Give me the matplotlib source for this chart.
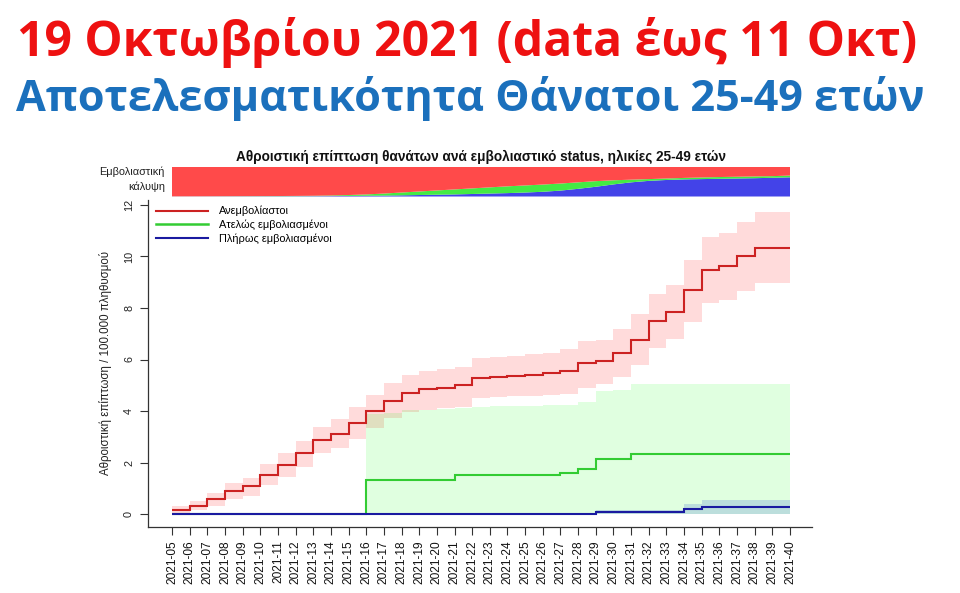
import matplotlib
matplotlib.use("Agg")
import matplotlib.pyplot as plt
from matplotlib.lines import Line2D
import numpy as np

# ---------------- data ----------------
week_labels = ["2021-05", "2021-06", "2021-07", "2021-08", "2021-09", "2021-10",
               "2021-11", "2021-12", "2021-13", "2021-14", "2021-15", "2021-16",
               "2021-17", "2021-18", "2021-19", "2021-20", "2021-21", "2021-22",
               "2021-23", "2021-24", "2021-25", "2021-26", "2021-27", "2021-28",
               "2021-29", "2021-30", "2021-31", "2021-32", "2021-33", "2021-34",
               "2021-35", "2021-36", "2021-37", "2021-38", "2021-39", "2021-40"]
weeks = list(range(5, 41))  # tick positions (week numbers)

# cumulative incidence per interval (week i -> i+1), weeks 05..39
unvacc = [0.15, 0.32, 0.57, 0.90, 1.09, 1.52, 1.89, 2.35, 2.86, 3.12, 3.55,
          4.00, 4.40, 4.70, 4.84, 4.91, 5.00, 5.27, 5.33, 5.37, 5.40, 5.48,
          5.56, 5.86, 5.93, 6.24, 6.77, 7.51, 7.83, 8.70, 9.48, 9.63, 10.02,
          10.33, 10.33]
unvacc_hi = [0.30, 0.52, 0.83, 1.22, 1.41, 1.94, 2.36, 2.85, 3.39, 3.68, 4.17,
             4.64, 5.07, 5.40, 5.57, 5.63, 5.72, 6.05, 6.09, 6.14, 6.20, 6.24,
             6.40, 6.72, 6.77, 7.17, 7.75, 8.55, 8.90, 9.86, 10.74, 10.93, 11.35,
             11.72, 11.72]
unvacc_lo = [0.04, 0.14, 0.31, 0.57, 0.70, 1.13, 1.45, 1.84, 2.36, 2.55, 2.92,
             3.35, 3.72, 3.97, 4.04, 4.10, 4.17, 4.49, 4.54, 4.58, 4.60, 4.62,
             4.66, 4.90, 5.05, 5.33, 5.79, 6.43, 6.80, 7.47, 8.18, 8.31, 8.67,
             8.97, 8.97]

partial = [0, 0, 0, 0, 0, 0, 0, 0, 0, 0, 0,
           1.32, 1.32, 1.32, 1.32, 1.32, 1.51, 1.51, 1.51, 1.51, 1.51, 1.51,
           1.58, 1.73, 2.12, 2.12, 2.33, 2.33, 2.33, 2.33, 2.33, 2.33, 2.33,
           2.33, 2.33]
partial_hi = [0, 0, 0, 0, 0, 0, 0, 0, 0, 0, 0,
              3.90, 3.92, 4.02, 4.04, 4.06, 4.12, 4.16, 4.18, 4.20, 4.20, 4.22,
              4.25, 4.35, 4.78, 4.80, 5.05, 5.05, 5.05, 5.05, 5.05, 5.05, 5.05,
              5.05, 5.05]
partial_lo = [0] * 35

full = [0, 0, 0, 0, 0, 0, 0, 0, 0, 0, 0,
        0, 0, 0, 0, 0, 0, 0, 0, 0, 0, 0,
        0, 0, 0.08, 0.08, 0.08, 0.08, 0.08, 0.18, 0.29, 0.29, 0.29,
        0.29, 0.29]
full_hi = [0, 0, 0, 0, 0, 0, 0, 0, 0, 0, 0,
           0, 0, 0, 0, 0, 0, 0, 0, 0, 0, 0,
           0, 0, 0.14, 0.14, 0.14, 0.14, 0.14, 0.38, 0.53, 0.53, 0.53,
           0.53, 0.53]
full_lo = [0] * 35

# vaccination coverage (fraction of population), weeks 05..40
cov_any = [0.005, 0.006, 0.008, 0.010, 0.012, 0.014, 0.016, 0.020, 0.025, 0.035,
           0.050, 0.070, 0.100, 0.135, 0.170, 0.205, 0.240, 0.275, 0.310, 0.345,
           0.375, 0.405, 0.440, 0.480, 0.520, 0.550, 0.570, 0.590, 0.610, 0.630,
           0.645, 0.660, 0.670, 0.680, 0.690, 0.710]
cov_full = [0.003, 0.004, 0.005, 0.006, 0.007, 0.008, 0.009, 0.010, 0.012, 0.015,
            0.020, 0.025, 0.030, 0.040, 0.050, 0.060, 0.070, 0.085, 0.100, 0.115,
            0.135, 0.160, 0.200, 0.260, 0.330, 0.410, 0.480, 0.530, 0.560, 0.580,
            0.590, 0.600, 0.610, 0.620, 0.635, 0.650]

series_names = ["Ανεμβολίαστοι", "Ατελώς εμβολιασμένοι", "Πλήρως εμβολιασμένοι"]

# ---------------- styling ----------------
W, H = 960, 593
DPI = 100
fig = plt.figure(figsize=(W / DPI, H / DPI), dpi=DPI)
fig.patch.set_facecolor("white")
plt.rcParams["font.family"] = ["Liberation Sans", "DejaVu Sans"]

RED_L, GRN_L, BLU_L = "#CC2222", "#33CC33", "#1A1AA0"


def fx(px):
    return px / W


def fy(py):
    return 1 - py / H


def fit_text(t, target_w):
    fig.canvas.draw()
    r = fig.canvas.get_renderer()
    w = t.get_window_extent(r).width
    t.set_fontsize(t.get_fontsize() * target_w / w)


# big slide titles
t1 = fig.text(fx(17), fy(56), "19 Οκτωβρίου 2021 (data έως 11 Οκτ)",
              color="#EE1111", fontweight="bold", fontsize=30,
              family=["Open Sans", "DejaVu Sans"], ha="left", va="baseline")
t2 = fig.text(fx(16), fy(111), "Αποτελεσματικότητα Θάνατοι 25-49 ετών",
              color="#1B70BC", fontweight="bold", fontsize=30,
              family=["Open Sans", "DejaVu Sans"], ha="left", va="baseline")
fit_text(t1, 900)
fit_text(t2, 908)

# main axes
x0, x1 = 148, 812
y_top, y_bot = 200, 526.7
ax = fig.add_axes([fx(x0), fy(y_bot), fx(x1) - fx(x0), fy(y_top) - fy(y_bot)])
ppw = (790 - 172) / 35.0
ax.set_xlim(5 - (172 - x0) / ppw, 40 + (x1 - 790) / ppw)
ppu = (514 - 205) / 12.0
ax.set_ylim(0 - (y_bot - 514) / ppu, 12 + (205 - y_top) / ppu)

edges = weeks
# CI bands
ax.stairs(unvacc_hi, edges, baseline=unvacc_lo, fill=True,
          facecolor=(1, 0, 0, 0.14), edgecolor="none", zorder=1)
ax.stairs(partial_hi, edges, baseline=partial_lo, fill=True,
          facecolor=(0, 1, 0, 0.12), edgecolor="none", zorder=1)
ax.stairs(full_hi, edges, baseline=full_lo, fill=True,
          facecolor=(0.1, 0.3, 0.8, 0.18), edgecolor="none", zorder=1)
# step lines
ax.stairs(unvacc, edges, baseline=None, color=RED_L, lw=1.5, zorder=3)
ax.stairs(partial, edges, baseline=None, color=GRN_L, lw=1.5, zorder=3)
ax.stairs(full, edges, baseline=None, color=BLU_L, lw=1.5, zorder=4)

for s in ["top", "right"]:
    ax.spines[s].set_visible(False)
for s in ["left", "bottom"]:
    ax.spines[s].set_color("#333333")
    ax.spines[s].set_linewidth(0.9)

ax.set_xticks(weeks)
ax.set_xticklabels(week_labels, rotation=90, fontsize=8.6, color="#111111")
ax.set_yticks([0, 2, 4, 6, 8, 10, 12])
ax.set_yticklabels(["0", "2", "4", "6", "8", "10", "12"], rotation=90,
                   va="center", fontsize=7.8, color="#222222")
ax.tick_params(axis="x", length=6, width=0.8, pad=4, color="#333333")
ax.tick_params(axis="y", length=6, width=0.8, pad=4, color="#333333")
ax.set_ylabel("Αθροιστική επίπτωση / 100.000 πληθυσμού", fontsize=8.3,
              color="#222222", labelpad=9)

handles = [Line2D([], [], color=RED_L, lw=1.5),
           Line2D([], [], color=GRN_L, lw=1.8),
           Line2D([], [], color=BLU_L, lw=1.5)]
ax.legend(handles, series_names, loc="upper left",
          bbox_to_anchor=((156 - x0) / (x1 - x0), 1 - (206 - y_top) / (y_bot - y_top)),
          frameon=False, fontsize=7.9, handlelength=4.7, handletextpad=1.0,
          labelspacing=0.28, borderpad=0, borderaxespad=0)

# chart title
tt = fig.text(fx(481), fy(157), "Αθροιστική επίπτωση θανάτων ανά εμβολιαστικό status, ηλικίες 25-49 ετών",
              fontweight="bold", fontsize=8.5, ha="center", va="center", color="#111111")
fit_text(tt, 492)

# coverage strip
axc = fig.add_axes([fx(172), fy(196.5), fx(790) - fx(172), fy(167) - fy(196.5)])
cov_partial = [a - f for a, f in zip(cov_any, cov_full)]
cov_unvacc = [1 - a for a in cov_any]
axc.stackplot(weeks, cov_full, cov_partial, cov_unvacc,
              colors=["#4343E8", "#44EA44", "#FF4A4A"], linewidth=0)
axc.set_xlim(5, 40)
axc.set_ylim(0, 1)
axc.axis("off")
fig.text(fx(165), fy(172), "Εμβολιαστική", ha="right", va="center",
         fontsize=7.9, color="#222222")
fig.text(fx(165), fy(187), "κάλυψη", ha="right", va="center",
         fontsize=7.9, color="#222222")

fig.savefig("out.png", dpi=DPI, facecolor="white")
